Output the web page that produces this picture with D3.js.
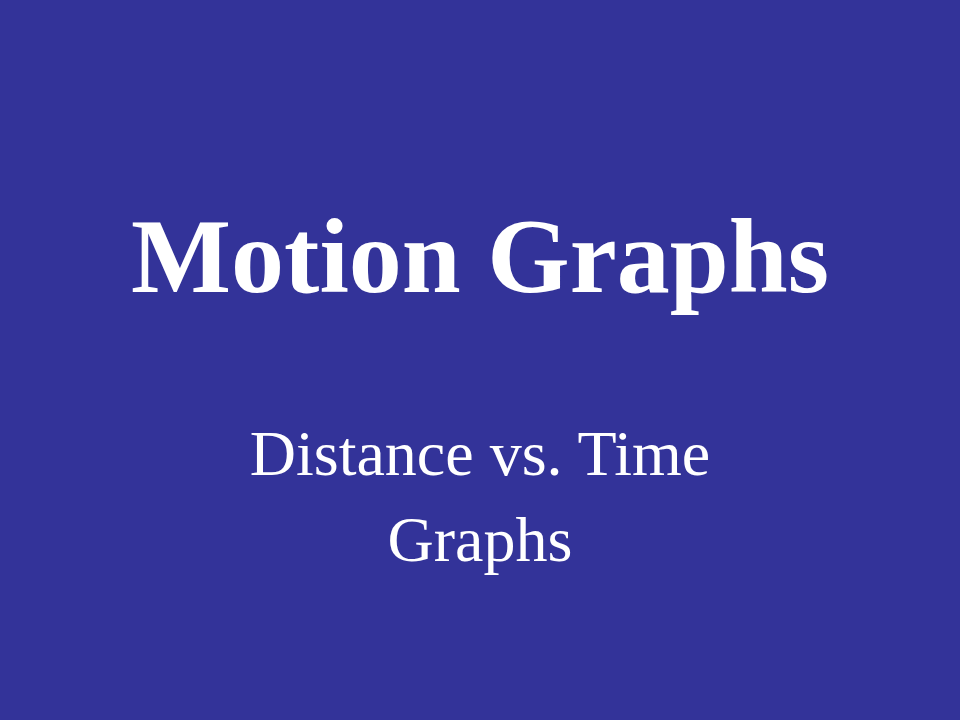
<!DOCTYPE html>
<html><head><meta charset="utf-8">
<script src="https://cdn.jsdelivr.net/npm/d3@7"></script>
<style>html,body{margin:0;padding:0;background:#333399;}</style>
</head><body>
<script>
const titleLines = ["Motion Graphs"];
const subtitleLines = ["Distance vs. Time", "Graphs"];

const W = 960, H = 720;
const svg = d3.select("body").append("svg").attr("width", W).attr("height", H);
svg.append("rect").attr("width", W).attr("height", H).attr("fill", "#333399");

svg.selectAll("text.title").data(titleLines).join("text")
  .attr("class", "title")
  .attr("x", W / 2).attr("y", 292)
  .attr("text-anchor", "middle")
  .attr("font-family", "'Liberation Serif', 'Times New Roman', serif")
  .attr("font-weight", "bold")
  .attr("font-size", 106)
  .attr("fill", "#ffffff")
  .text(d => d);

svg.selectAll("text.sub").data(subtitleLines).join("text")
  .attr("class", "sub")
  .attr("x", W / 2).attr("y", (d, i) => 475 + i * 86)
  .attr("text-anchor", "middle")
  .attr("font-family", "'Liberation Serif', 'Times New Roman', serif")
  .attr("font-size", 64)
  .attr("fill", "#ffffff")
  .text(d => d);
</script>
</body></html>
